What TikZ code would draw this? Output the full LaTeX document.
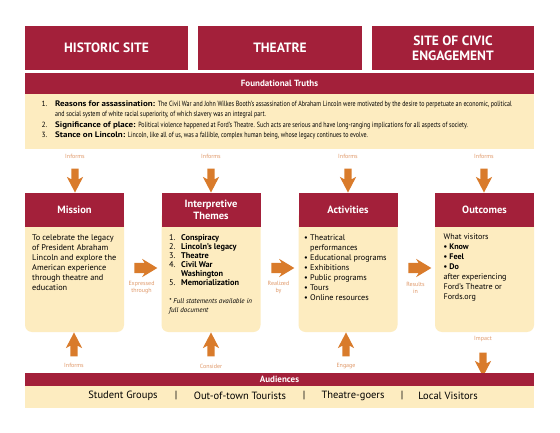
\documentclass[tikz,border=0pt]{standalone}
\usepackage{fontspec}
\setmainfont{PT Sans}
\newfontfamily\condfont{PT Sans}[FakeStretch=0.8]
\newfontfamily\widebold{PT Sans Bold}[FakeStretch=1.12]
\usetikzlibrary{shapes.arrows}
\definecolor{fdred}{HTML}{A3203A}
\definecolor{fdcream}{HTML}{FDECC0}
\definecolor{fdorange}{HTML}{D97B2B}
\definecolor{fdlabel}{HTML}{E09868}
\begin{document}
\begin{tikzpicture}[x=1pt,y=-1pt,
  topbox/.style={fill=fdred, text=white, font=\bfseries\fontsize{13.5}{15}\selectfont, align=center, inner sep=0pt, minimum height=44pt},
  redbar/.style={fill=fdred, text=white, font=\bfseries\fontsize{9}{10}\selectfont, inner sep=0pt},
  creambar/.style={fill=fdcream, inner sep=0pt},
  hdr/.style={fill=fdred, text=white, font=\bfseries\fontsize{10.5}{12}\selectfont, align=center, inner sep=0pt, minimum width=99pt, minimum height=34pt},
  bodybox/.style={fill=fdcream, rounded corners=7pt, inner sep=0pt, minimum width=99pt, minimum height=122pt},
  bodytext/.style={anchor=north west, inner sep=0pt, align=left, font=\fontsize{8.3}{10}\selectfont},
  ftnum/.style={anchor=base east, inner sep=0pt, font=\fontsize{7.5}{9}\selectfont},
  fttext/.style={anchor=base west, inner sep=0pt, font=\fontsize{7.5}{9}\selectfont},
  darrow/.style={single arrow, fill=fdorange, inner sep=3.5pt, minimum height=24pt, single arrow head extend=4.5pt, single arrow tip angle=55, single arrow head indent=2.5pt, shape border rotate=270},
  uarrow/.style={darrow, shape border rotate=90},
  harrow/.style={single arrow, fill=fdorange, inner sep=5pt, minimum height=23pt, single arrow head extend=4pt, single arrow tip angle=62, single arrow head indent=2.5pt},
  lbl/.style={text=fdlabel, font=\fontsize{6}{7}\selectfont, align=center, inner sep=0pt},
  aud/.style={inner sep=0pt, font=\fontsize{10.5}{12}\selectfont}
]
\useasboundingbox (0,0) rectangle (560,433);
\fill[white] (0,0) rectangle (560,433);
% top boxes
\node[topbox, minimum width=163pt] (hs) at (106.5,48) {HISTORIC SITE};
\node[topbox, minimum width=164pt] (th) at (280,48) {THEATRE};
\node[topbox, minimum width=162pt] (ce) at (453,48) {SITE OF CIVIC\\ENGAGEMENT};
% foundational truths
\node[redbar, minimum width=509pt, minimum height=21pt] (ftbar) at (279.5,83.5) {Foundational Truths};
\node[creambar, minimum width=509pt, minimum height=55pt] (ftbody) at (279.5,121.5) {};
\node[ftnum] (n1) at (47.5,107) {1.};
\node[fttext] (t1) at (55,107) {{\widebold\fontsize{8}{9}\selectfont Reasons for assassination:} {\condfont The Civil War and John Wilkes Booth’s assassination of Abraham Lincoln were motivated by the desire to perpetuate an economic, political}};
\node[fttext] (t1b) at (55,117) {\condfont and social system of white racial superiority, of which slavery was an integral part.};
\node[ftnum] (n2) at (47.5,128) {2.};
\node[fttext] (t2) at (55,128) {{\widebold\fontsize{8}{9}\selectfont Significance of place:} {\condfont Political violence happened at Ford’s Theatre. Such acts are serious and have long-ranging implications for all aspects of society.}};
\node[ftnum] (n3) at (47.5,138) {3.};
\node[fttext] (t3) at (55,138) {{\widebold\fontsize{8}{9}\selectfont Stance on Lincoln:} {\condfont Lincoln, like all of us, was a fallible, complex human being, whose legacy continues to evolve.}};
% informs arrows
\node[lbl] (il1) at (75,156) {Informs};
\node[lbl] (il2) at (211,156) {Informs};
\node[lbl] (il3) at (348,156) {Informs};
\node[lbl] (il4) at (484,156) {Informs};
\node[darrow] (ia1) at (75,177) {};
\node[darrow] (ia2) at (211,177) {};
\node[darrow] (ia3) at (348,177) {};
\node[darrow] (ia4) at (484,177) {};
% boxes
\node[bodybox] (missionbody) at (74.5,271) {};
\node[bodybox] (themesbody) at (211,271) {};
\node[bodybox] (actbody) at (348,271) {};
\node[bodybox] (outbody) at (484.5,271) {};
\node[hdr] (mission) at (74.5,210) {Mission};
\node[hdr] (themes) at (211,210) {Interpretive\\Themes};
\node[hdr] (act) at (348,210) {Activities};
\node[hdr] (out) at (484.5,210) {Outcomes};
\node[bodytext] (missiontext) at (32,234.5) {To celebrate the legacy\\of President Abraham\\Lincoln and explore the\\American experience\\through theatre and\\education};
\node[bodytext, font=\bfseries\fontsize{8.3}{9}\selectfont] (themestext) at (169,234.5) {\makebox[12pt][l]{\mdseries 1.}Conspiracy\\\makebox[12pt][l]{\mdseries 2.}Lincoln’s legacy\\\makebox[12pt][l]{\mdseries 3.}Theatre\\\makebox[12pt][l]{\mdseries 4.}Civil War\\\makebox[12pt][l]{}Washington\\\makebox[12pt][l]{\mdseries 5.}Memorialization};
\node[bodytext, font=\itshape\fontsize{7}{9}\selectfont] (themesnote) at (169,298) {* Full statements available in\\full document};
\node[bodytext, font=\fontsize{8.2}{10}\selectfont] (acttext) at (304,234) {\makebox[6pt][l]{•}Theatrical\\\makebox[6pt][l]{}performances\\\makebox[6pt][l]{•}Educational programs\\\makebox[6pt][l]{•}Exhibitions\\\makebox[6pt][l]{•}Public programs\\\makebox[6pt][l]{•}Tours\\\makebox[6pt][l]{•}Online resources};
\node[bodytext, font=\fontsize{8.1}{10}\selectfont] (outtext) at (443.5,234) {What visitors\\\textbf{• Know}\\\textbf{• Feel}\\\textbf{• Do}\\after experiencing\\Ford’s Theatre or\\Fords.org};
% horizontal arrows
\node[harrow] (ha1) at (141.5,268) {};
\node[harrow] (ha2) at (278.5,268) {};
\node[harrow] (ha3) at (415.5,268) {};
\node[lbl] (hl1) at (141.5,287.5) {Expressed\\through};
\node[lbl] (hl2) at (278.5,287.5) {Realized\\by};
\node[lbl] (hl3) at (415.5,287.5) {Results\\in};
% bottom arrows
\node[uarrow] (ua1) at (74,348) {};
\node[uarrow] (ua2) at (211,348) {};
\node[uarrow] (ua3) at (346,348) {};
\node[darrow] (da4) at (483,361) {};
\node[lbl] (ul1) at (74,365) {Informs};
\node[lbl] (ul2) at (211,366) {Consider};
\node[lbl] (ul3) at (346,366) {Engage};
\node[lbl] (ul4) at (483,339) {Impact};
% audiences
\node[redbar, minimum width=509pt, minimum height=13pt] (audbar) at (279.5,379.5) {Audiences};
\node[creambar, minimum width=509pt, minimum height=22pt] (audbody) at (279.5,397) {};
\node[aud] (a1) at (123,396) {Student Groups};
\node[aud] (p1) at (176,396) {|};
\node[aud] (a2) at (240,396) {Out-of-town Tourists};
\node[aud] (p2) at (304,396) {|};
\node[aud] (a3) at (353,396) {Theatre-goers};
\node[aud] (p3) at (402,396) {|};
\node[aud] (a4) at (448,396) {Local Visitors};
\end{tikzpicture}
\end{document}
